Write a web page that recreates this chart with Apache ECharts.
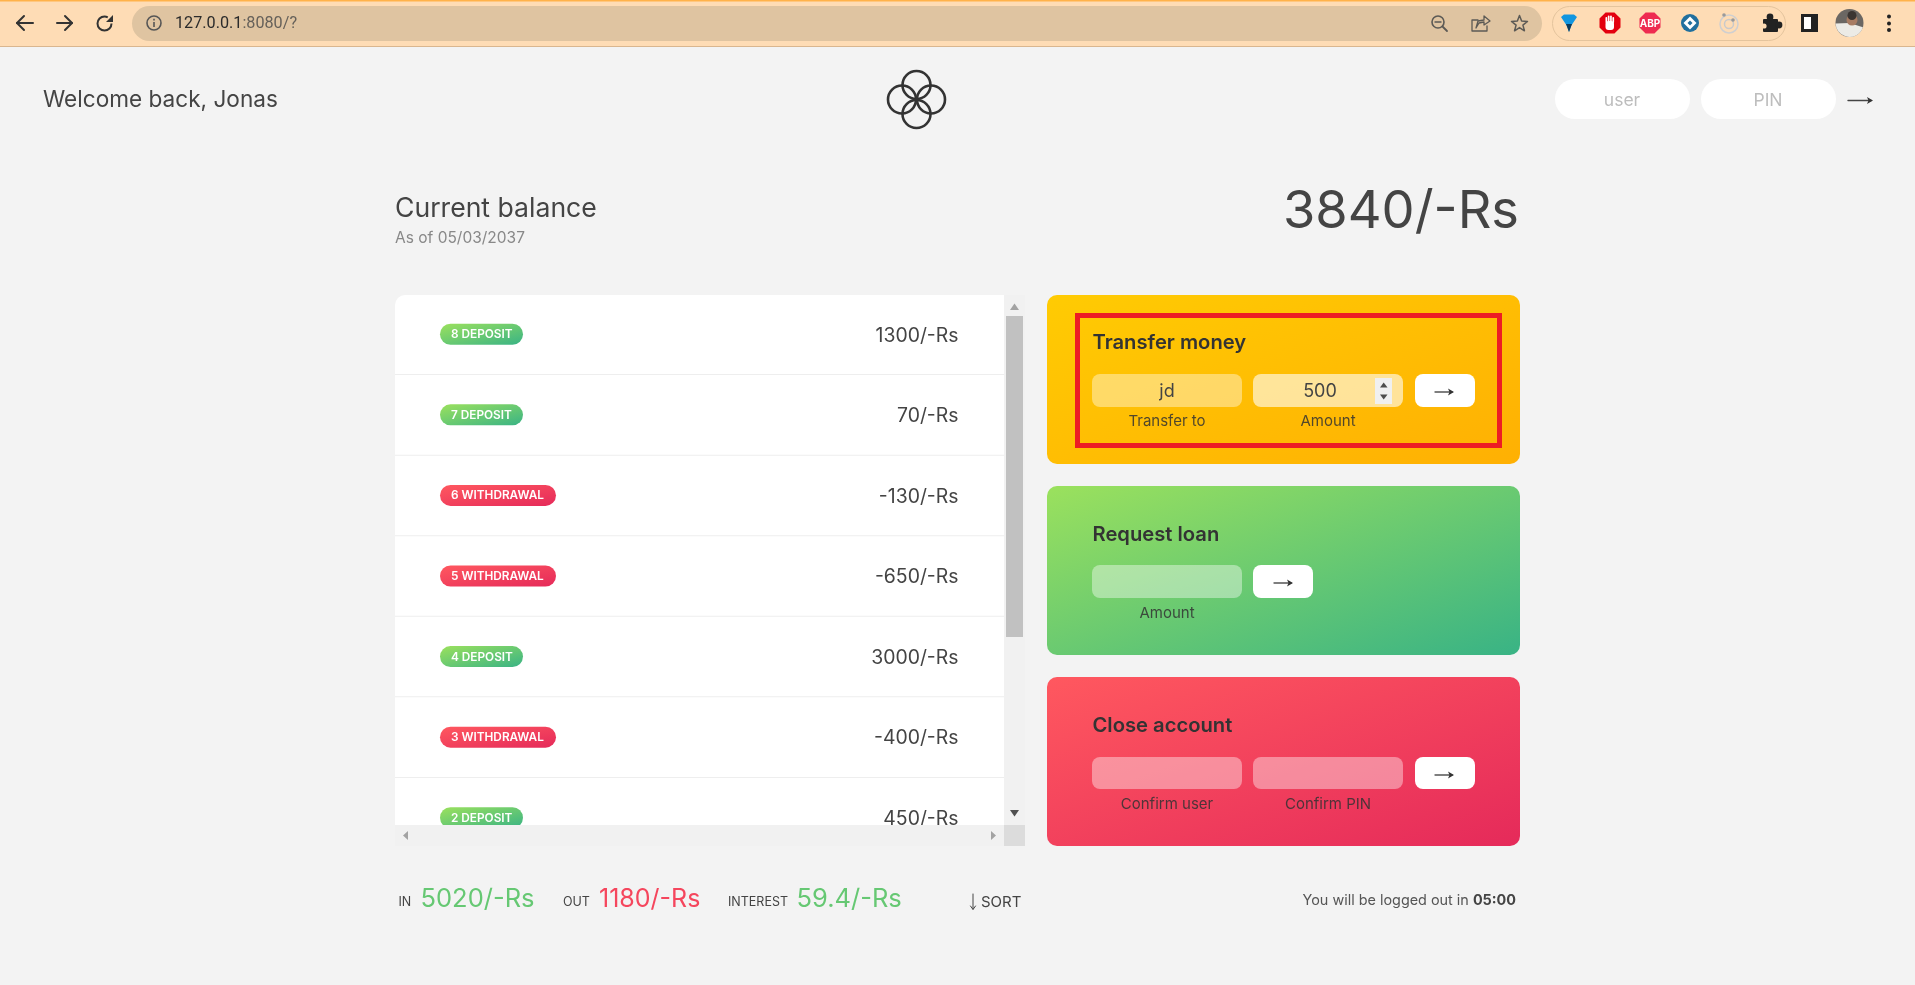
<!DOCTYPE html>
<html>
<head>
<meta charset="utf-8">
<title>Bankist</title>
<script src="https://cdn.jsdelivr.net/npm/echarts@6/dist/echarts.min.js"></script>
<style>
    html, body { margin: 0; height: 100%; background: #f3f3f3; }
    #main { width: 1915px; height: 985px; }
</style>
</head>
<body>
<div id="main"></div>
<script>
// movements, newest first
var moveNumbers = [ 8, 7, 6, 5, 4, 3, 2 ];
var moveTypes = [ 'deposit', 'deposit', 'withdrawal', 'withdrawal', 'deposit', 'withdrawal', 'deposit' ];
var moveValues = [ 1300, 70, -130, -650, 3000, -400, 450 ];

var balance = 3840;
var summaryIn = 5020;
var summaryOut = 1180;
var summaryInterest = 59.4;

var userName = 'Jonas';
var balanceDate = '05/03/2037';
var transferTo = 'jd';
var transferAmount = 500;
var logoutTime = '05:00';

var FONT = 'Inter, "Noto Sans", sans-serif';
var DARK = '#444444';
var elements = [];

// same corner to corner look as css "to bottom right"
function grad(w, h, from, to) {
    var s = w * w + h * h;
    var dx = h * h / s, dy = w * w / s;
    return new echarts.graphic.LinearGradient(0.5 - dx, 0.5 - dy, 0.5 + dx, 0.5 + dy, [
        { offset: 0, color: from },
        { offset: 1, color: to }
    ]);
}

function rect(x, y, w, h, r, fill, z) {
    elements.push({
        type: 'rect', z: z || 1, silent: true,
        shape: { x: x, y: y, width: w, height: h, r: r },
        style: { fill: fill }
    });
}

// y + 1.5: Inter sits a bit high when middle aligned
function text(str, x, y, font, fill, align, z) {
    elements.push({
        type: 'text', z: z || 3, silent: true,
        style: {
            text: str, x: x, y: y + 1.5, fill: fill,
            font: font + ' ' + FONT,
            textAlign: align || 'left',
            textVerticalAlign: 'middle'
        }
    });
}

function line(points, color, width, z) {
    elements.push({
        type: 'polyline', z: z || 3, silent: true,
        shape: { points: points },
        style: { stroke: color, lineWidth: width, fill: null, lineCap: 'round', lineJoin: 'round' }
    });
}

function poly(points, fill, z) {
    elements.push({
        type: 'polygon', z: z || 3, silent: true,
        shape: { points: points },
        style: { fill: fill }
    });
}

function ring(cx, cy, r, stroke, width, fill, z) {
    elements.push({
        type: 'circle', z: z || 3, silent: true,
        shape: { cx: cx, cy: cy, r: r },
        style: { stroke: stroke, lineWidth: width, fill: fill || null }
    });
}

function octagon(cx, cy, r, fill) {
    var a = r * 0.42;
    poly([ [cx - a, cy - r], [cx + a, cy - r], [cx + r, cy - a], [cx + r, cy + a],
        [cx + a, cy + r], [cx - a, cy + r], [cx - r, cy + a], [cx - r, cy - a] ], fill);
}

// thin long arrow of the page buttons
function arrow(x1, x2, y) {
    line([ [x1, y], [x2 - 1, y] ], '#555555', 1.3);
    poly([ [x2 + 1, y], [x2 - 5, y - 3.5], [x2 - 3.5, y], [x2 - 5, y + 3.5] ], '#333333');
}

function browserBar() {
    rect(0, 0, 1915, 47, 0, '#fedcb5', 1);
    rect(0, 0, 1915, 1.5, 0, '#ffb24a', 2);
    rect(0, 46, 1915, 1, 0, '#d9b68f', 2);
    // back, forward, reload
    var c = '#333333';
    line([ [33, 23], [17, 23] ], c, 2);
    line([ [24, 16], [17, 23], [24, 30] ], c, 2);
    line([ [57, 23], [72, 23] ], c, 2);
    line([ [65, 16], [72, 23], [65, 30] ], c, 2);
    elements.push({
        type: 'arc', z: 3, silent: true,
        shape: { cx: 104.5, cy: 23.5, r: 7, startAngle: 0, endAngle: 5.2, clockwise: true },
        style: { stroke: c, lineWidth: 2, fill: null }
    });
    poly([ [113, 15], [113, 22], [106, 22] ], c);
    // address pill
    rect(132, 6, 1410, 35, 17.5, '#dfc4a1', 2);
    ring(154, 23, 7, '#555555', 1.6);
    rect(153.2, 22, 1.6, 5, 0, '#555555', 3);
    rect(153.2, 18.8, 1.6, 1.7, 0, '#555555', 3);
    elements.push({
        type: 'text', z: 3, silent: true,
        style: {
            text: '{a|127.0.0.1}{b|:8080/?}', x: 175, y: 24, textVerticalAlign: 'middle',
            rich: {
                a: { font: '16.2px Roboto', fill: '#2b2b2b' },
                b: { font: '16.2px Roboto', fill: '#66615a' }
            }
        }
    });
    // zoom, share, star
    ring(1438, 22, 6, '#5c5a55', 1.6);
    line([ [1435, 22], [1441, 22] ], '#5c5a55', 1.4);
    line([ [1442.5, 26.5], [1447, 31] ], '#5c5a55', 1.8);
    line([ [1478, 20], [1472, 20], [1472, 31], [1487, 31], [1487, 26] ], '#5c5a55', 1.3);
    line([ [1476, 28], [1478, 21], [1484, 20], [1484, 16], [1490, 21], [1484, 25], [1484, 22], [1479, 23], [1476, 28] ], '#5c5a55', 1.3);
    var star = [];
    for (var i = 0; i < 10; i++) {
        var r = i % 2 ? 3.6 : 8.4, a = -Math.PI / 2 + i * Math.PI / 5;
        star.push([ 1519.5 + r * Math.cos(a), 24 + r * Math.sin(a) ]);
    }
    star.push(star[0]);
    line(star, '#5c5a55', 1.5);
    // extensions
    elements.push({
        type: 'rect', z: 2, silent: true,
        shape: { x: 1552.5, y: 6.5, width: 233, height: 34, r: 17 },
        style: { fill: null, stroke: '#e4c49d', lineWidth: 1 }
    });
    poly([ [1561, 17], [1564, 14.5], [1574, 14.5], [1577, 17], [1571, 26], [1569, 32], [1567, 26] ], '#1296e0');
    poly([ [1566, 24], [1572, 24], [1569, 32] ], '#0b3a5c', 4);
    octagon(1610, 23, 10.5, '#e3000f');
    // hand
    rect(1605.5, 21, 8.5, 9, 3, '#ffffff', 4);
    rect(1605.5, 17, 1.7, 6, 0.8, '#ffffff', 4);
    rect(1607.8, 15.5, 1.7, 7, 0.8, '#ffffff', 4);
    rect(1610.1, 15.5, 1.7, 7, 0.8, '#ffffff', 4);
    rect(1612.4, 17, 1.7, 6, 0.8, '#ffffff', 4);
    octagon(1650, 23, 10.5, '#ee2b51');
    text('ABP', 1650, 22, 'bold 10px', '#ffffff', 'center', 4);
    ring(1690, 23, 9, null, 0, '#206f9e');
    poly([ [1690, 16.5], [1696.5, 23], [1690, 29.5], [1683.5, 23] ], '#ffffff', 4);
    poly([ [1690, 20.5], [1692.5, 23], [1690, 25.5], [1687.5, 23] ], '#206f9e', 5);
    ring(1729, 24, 9, '#cfcfd0', 1.5);
    ring(1729, 24, 4.5, '#c9c9ca', 1.5);
    ring(1724, 15, 1.8, null, 0, '#9a9a9a');
    ring(1733, 20, 1.8, null, 0, '#9a9a9a');
    // puzzle piece
    rect(1763, 19, 15, 13, 1, '#222222');
    ring(1770, 17, 3.4, null, 0, '#222222');
    ring(1779, 25, 3.4, null, 0, '#222222');
    ring(1764, 26, 2.6, null, 0, '#fedcb5', 4);
    // side panel
    rect(1801, 14, 17, 18, 0, '#222222');
    rect(1804, 17, 7, 12, 0, '#ffffff', 4);
    // avatar
    ring(1849.5, 23, 14, null, 0, '#6b6763');
    elements.push({
        type: 'sector', z: 4, silent: true,
        shape: { cx: 1849.5, cy: 23, r: 14, r0: 0, startAngle: 0.3, endAngle: 3.1 },
        style: { fill: '#ecebe6' }
    });
    ring(1852, 20, 5.5, null, 0, '#a77c63', 5);
    ring(1852, 15.5, 4.5, null, 0, '#3b3532', 5);
    // menu dots
    ring(1889, 16.5, 2, null, 0, '#222222');
    ring(1889, 23.5, 2, null, 0, '#222222');
    ring(1889, 30, 2, null, 0, '#222222');
}

function pageHeader() {
    text('Welcome back, ' + userName, 43, 99, '22.6px', DARK);
    // logo
    ring(916.5, 85, 14, '#333333', 2.6, null, 3);
    ring(902, 99.5, 14, '#333333', 2.6, null, 3);
    ring(931, 99.5, 14, '#333333', 2.6, null, 3);
    ring(916.5, 114, 14, '#333333', 2.6, null, 3);
    // login
    rect(1555, 79, 135, 40, 20, '#ffffff');
    rect(1701, 79, 135, 40, 20, '#ffffff');
    text('user', 1622, 99.5, '17.5px', '#bdbdbd', 'center');
    text('PIN', 1768, 99.5, '17.5px', '#bdbdbd', 'center');
    line([ [1848, 100.5], [1871, 100.5] ], '#444444', 1.4);
    poly([ [1873, 100.5], [1867, 97], [1868.5, 100.5], [1867, 104] ], '#333333');
    // balance
    text('Current balance', 395, 207.5, '26.6px', DARK);
    text('As of ' + balanceDate, 395, 236.5, '15.5px', '#888888');
    text(balance + '/-Rs', 1519, 211, '52.4px', DARK, 'right');
}

function moveBox() {
    // white backing of the list and its scrollbars
    rect(395, 295, 609, 530, [10, 0, 0, 0], '#ffffff', 1);
    rect(1004, 295, 21, 530, 0, '#f1f1f1', 1);
    rect(1006, 316, 17, 321, 0, '#c1c1c1', 2);
    poly([ [1014.5, 303.5], [1019, 310], [1010, 310] ], '#a3a3a3');
    poly([ [1010, 810], [1019, 810], [1014.5, 816.5] ], '#505050');
    // horizontal bar goes over the cut off last row
    rect(395, 825, 609, 21, [0, 0, 0, 0], '#f1f1f1', 20);
    rect(1004, 825, 21, 21, 0, '#dcdcdc', 20);
    poly([ [403, 835.5], [408, 831], [408, 840] ], '#a3a3a3', 21);
    poly([ [991, 831], [996, 835.5], [991, 840] ], '#a3a3a3', 21);
    // strip below the list so the page colour stays clean
    rect(395, 846, 630, 12, 0, '#f3f3f3', 20);
}

function summary() {
    var green = '#66c873', red = '#f5465d';
    text('IN', 398.5, 901, '12.5px', DARK);
    text(summaryIn + '/-Rs', 420.5, 897.5, '25.5px', green);
    text('OUT', 563, 901, '12.5px', DARK);
    text(summaryOut + '/-Rs', 599, 897.5, '25px', red);
    text('INTEREST', 728, 901, '12.5px', DARK);
    text(summaryInterest + '/-Rs', 796.5, 897.5, '25.5px', green);
    text('SORT', 981, 900.5, '15px', DARK);
    line([ [973, 894], [973, 909] ], DARK, 1);
    line([ [970.5, 906], [973, 909.5], [975.5, 906] ], DARK, 1);
    elements.push({
        type: 'text', z: 3, silent: true,
        style: {
            text: '{a|You will be logged out in }{b|' + logoutTime + '}',
            x: 1516, y: 901, textAlign: 'right', textVerticalAlign: 'middle',
            rich: {
                a: { font: '14.4px ' + FONT, fill: '#555555' },
                b: { font: 'bold 14.4px ' + FONT, fill: '#444444' }
            }
        }
    });
}

function card(y, from, to) {
    rect(1047, y, 473, 169, 10, grad(473, 169, from, to), 1);
}

function inputBox(x, y, w, h, alpha) {
    rect(x, y, w, h, 8, 'rgba(255,255,255,' + alpha + ')', 2);
}

function operations() {
    var labelColor = 'rgba(51,51,51,0.85)';
    var titleFont = '600 20.2px';
    var labelFont = '15px';
    // transfer
    card(295, '#ffcb03', '#ffb003');
    elements.push({
        type: 'rect', z: 2, silent: true,
        shape: { x: 1077.5, y: 315.5, width: 422, height: 130 },
        style: { fill: null, stroke: '#ed1c24', lineWidth: 5 }
    });
    text('Transfer money', 1092.5, 341.5, titleFont, '#333333');
    inputBox(1092, 374, 150, 33, 0.4);
    inputBox(1253, 374, 150, 33, 0.6);
    rect(1415, 374, 60, 33, 8, '#ffffff', 2);
    arrow(1435, 1453, 392);
    text(transferTo, 1167, 390, '18px', DARK, 'center');
    text(String(transferAmount), 1320, 390, '18px', DARK, 'center');
    rect(1375, 378, 17, 26, 0, '#f0f0f0', 3);
    poly([ [1383.7, 382.5], [1387.5, 387.5], [1380, 387.5] ], '#4d4d4d', 4);
    poly([ [1380, 394.5], [1387.5, 394.5], [1383.7, 399.5] ], '#4d4d4d', 4);
    text('Transfer to', 1167, 420, labelFont, labelColor, 'center');
    text('Amount', 1328, 420, labelFont, labelColor, 'center');

    // loan
    card(486, '#9be15d', '#39b385');
    text('Request loan', 1092.5, 533.5, titleFont, '#333333');
    inputBox(1092, 565, 150, 33, 0.4);
    rect(1253, 565, 60, 33, 8, '#ffffff', 2);
    arrow(1274, 1292, 583);
    text('Amount', 1167, 612, labelFont, labelColor, 'center');

    // close
    card(677, '#ff585f', '#e52a5a');
    text('Close account', 1092.5, 724.5, titleFont, '#333333');
    inputBox(1092, 757, 150, 32, 0.4);
    inputBox(1253, 757, 150, 32, 0.4);
    rect(1415, 757, 60, 32, 8, '#ffffff', 2);
    arrow(1435, 1453, 775);
    text('Confirm user', 1167, 803, labelFont, labelColor, 'center');
    text('Confirm PIN', 1328, 803, labelFont, labelColor, 'center');
}

// one list row, placed by the hidden category axis
function renderMove(params, api) {
    var i = params.dataIndex;
    var p = api.coord([ 0, i ]);
    var rowH = api.size([ 0, 1 ])[1];
    var left = p[0], y = p[1];
    var isDeposit = moveTypes[i] === 'deposit';
    var chipW = isDeposit ? 83 : 116;
    var chipFill = isDeposit ? grad(chipW, 21, '#9be15d', '#39b385') : grad(chipW, 21, '#ff585f', '#e52a5a');
    var children = [ {
        type: 'rect',
        shape: { x: left + 45, y: y - 10.5, width: chipW, height: 21, r: 10.5 },
        style: { fill: chipFill }
    }, {
        type: 'text',
        style: {
            text: moveNumbers[i] + ' ' + moveTypes[i].toUpperCase(),
            x: left + 56, y: y + 0.5, fill: '#ffffff',
            font: '600 11.8px ' + FONT,
            textVerticalAlign: 'middle'
        }
    }, {
        type: 'text',
        style: {
            text: moveValues[i] + '/-Rs',
            x: left + 563.5, y: y + 1.5, fill: DARK,
            font: '19.4px ' + FONT,
            textAlign: 'right',
            textVerticalAlign: 'middle'
        }
    } ];
    if (i < moveValues.length - 1) {
        children.push({
            type: 'rect',
            shape: { x: left, y: y + rowH / 2 - 0.5, width: 609, height: 1 },
            style: { fill: '#eeeeee' }
        });
    }
    return { type: 'group', children: children };
}

window.onload = function () {
    browserBar();
    pageHeader();
    moveBox();
    summary();
    operations();

    var chart = echarts.init(document.getElementById('main'), null, { renderer: 'canvas' });
    chart.setOption({
        backgroundColor: '#f3f3f3',
        animation: false,
        grid: { left: 395, top: 294, width: 609, height: 564 },
        xAxis: { type: 'value', min: 0, max: 1, show: false },
        yAxis: { type: 'category', inverse: true, show: false, data: moveNumbers },
        graphic: { elements: elements },
        series: [ {
            type: 'custom',
            z: 5,
            clip: false,
            silent: true,
            coordinateSystem: 'cartesian2d',
            encode: { x: 0, y: 1 },
            data: moveValues.map(function (v, i) { return [ 0, i, v ]; }),
            renderItem: renderMove
        } ]
    });
};
</script>
</body>
</html>
